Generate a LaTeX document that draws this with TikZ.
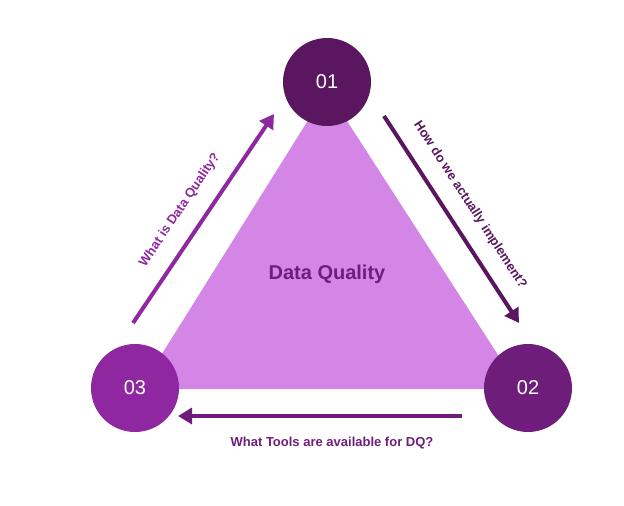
\documentclass[tikz,border=0pt]{standalone}
\usepackage{fontspec}
\setmainfont{Liberation Sans}
\usetikzlibrary{arrows.meta}
\definecolor{tri}{HTML}{D486E6}
\definecolor{cA}{HTML}{5A1760}
\definecolor{cB}{HTML}{6E1E7A}
\definecolor{cC}{HTML}{8E27A0}
\tikzset{
  circ/.style={circle,minimum size=88pt,inner sep=0pt,text=white,font=\fontsize{20}{22}\selectfont},
  arr/.style={line width=4pt,-{Triangle[length=14pt,width=16pt]}},
  lab/.style={font=\fontsize{13}{15}\selectfont\bfseries}
}
\begin{document}
\begin{tikzpicture}[x=1pt,y=-1pt]
\useasboundingbox (0,0) rectangle (624,506);
\fill[tri] (327,90) -- (140,389) -- (520,389) -- cycle;
\node[font=\fontsize{20}{22}\selectfont\bfseries,text=cB] (t) at (327,274) {Data Quality};
\node[circ,fill=cA] (n1) at (327,82) {01};
\node[circ,fill=cB] (n2) at (528,388) {02};
\node[circ,fill=cC] (n3) at (135,388) {03};
\coordinate (a1) at (133,323); \coordinate (a2) at (274,114);
\coordinate (b1) at (384,116); \coordinate (b2) at (519,323);
\coordinate (c1) at (462,416); \coordinate (c2) at (178,416);
\draw[arr,cC] (a1) -- (a2);
\draw[arr,cA] (b1) -- (b2);
\draw[arr,cB] (c1) -- (c2);
\node[lab,text=cC,rotate=56] (l1) at (180,210) {What is Data Quality?};
\node[lab,text=cA,rotate=-57] (l2) at (470,205) {How do we actually implement?};
\node[lab,text=cB] (l3) at (332,443) {What Tools are available for DQ?};
\end{tikzpicture}
\end{document}
